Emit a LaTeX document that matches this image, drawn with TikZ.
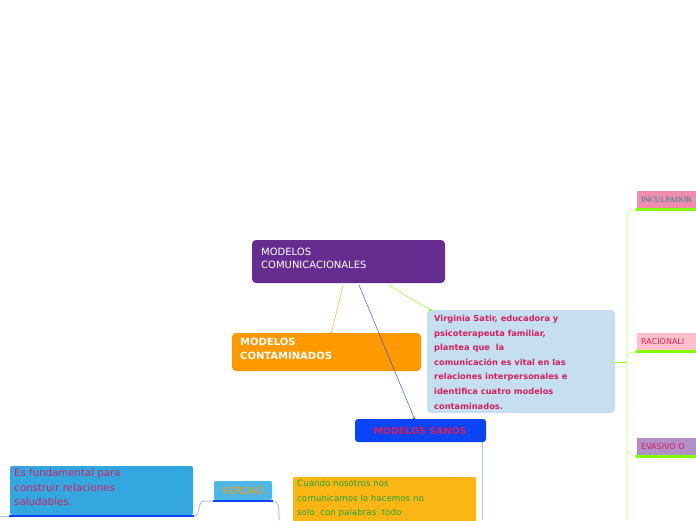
\documentclass[tikz,border=0pt]{standalone}
\usepackage{fontspec}
\setmainfont{DejaVu Sans}
\newfontfamily\serifx{Liberation Serif}
\begin{document}
\begin{tikzpicture}[x=1pt,y=-1pt,
 txt/.style={align=left,anchor=north west,inner sep=0pt,font=\fontsize{8.5}{11}\selectfont}]
\useasboundingbox (0,0) rectangle (696,520);
\definecolor{purp}{HTML}{662D91}
\definecolor{orng}{HTML}{FF9900}
\definecolor{lblue}{HTML}{C5DFF0}
\definecolor{crim}{HTML}{D0215F}
\definecolor{sblue}{HTML}{0A44F5}
\definecolor{vblue}{HTML}{4DB8E8}
\definecolor{fblue}{HTML}{33A8E0}
\definecolor{ylw}{HTML}{FBB614}
\definecolor{grn}{HTML}{1FA53A}
\definecolor{lgrn}{HTML}{7FFF00}
\definecolor{pgrn}{HTML}{CCFF99}
\definecolor{lnc}{HTML}{A9C4F5}
\definecolor{pk1}{HTML}{F08CB0}
\definecolor{pk2}{HTML}{FFC0CB}
\definecolor{pu2}{HTML}{B38FC8}
\definecolor{teal2}{HTML}{1E828C}
% boxes
\fill[purp,rounded corners=4pt] (252,240) rectangle (445,283);
\node[txt,text=white,font=\fontsize{10}{13}\selectfont] (t) at (261,248) {MODELOS\\COMUNICACIONALES};
\coordinate (tA) at (343,285); \coordinate (tB) at (359,285); \coordinate (tC) at (388,285);
\fill[orng,rounded corners=4pt] (232,333) rectangle (421,371);
\node[txt,text=white,font=\bfseries\fontsize{10}{13.5}\selectfont] (c) at (240,338) {MODELOS\\CONTAMINADOS};
\coordinate (cT) at (331,335);
\fill[lblue,rounded corners=4pt] (427,310) rectangle (615,413);
\node[txt,text=crim,font=\bfseries\fontsize{8.3}{14.6}\selectfont] (v) at (434,315) {Virginia Satir, educadora y\\psicoterapeuta familiar,\\plantea que\ \ la\\comunicación es vital en las\\relaciones interpersonales e\\identifica cuatro modelos\\contaminados.};
\coordinate (vT) at (432,311); \coordinate (vR) at (615,362);
\fill[sblue,rounded corners=3pt] (355,419) rectangle (486,442);
\node[text=crim,font=\bfseries\fontsize{9.5}{11}\selectfont,inner sep=0pt] (s) at (420,431) {MODELOS SANOS};
\coordinate (sT) at (415,420);
\fill[vblue,rounded corners=2pt] (214,481) rectangle (272,500);
\node[text=orng,font=\fontsize{10}{11}\selectfont,inner sep=0pt] (vd) at (243,491) {VERDAD};
\draw[sblue,line width=2.5pt] (213,501) -- (273,501);
\fill[fblue,rounded corners=2pt] (10,466) rectangle (193,515);
\node[txt,text=crim,font=\fontsize{10.2}{14.5}\selectfont] (f) at (14,469) {Es fundamental para\\construir relaciones\\saludables.};
\draw[sblue,line width=2.5pt] (9,516) -- (194,516);
\fill[ylw,rounded corners=2pt] (293,477) rectangle (476,525);
\node[txt,text=grn,font=\fontsize{8.7}{14.5}\selectfont] (cu) at (297,480) {Cuando nosotros nos\\comunicamos lo hacemos no\\solo\ \ con palabras\ \ todo};
% right labels
\fill[pk1] (637,191) rectangle (700,208);
\node[anchor=west,inner sep=0pt,text=teal2,font=\serifx\fontsize{8}{9}\selectfont] (i1) at (641,200) {INCULPADOR};
\begin{scope}
\clip (630,180) rectangle (696,470);
\fill[pk2] (637,333) rectangle (700,350);
\node[anchor=west,inner sep=0pt,text=crim,font=\fontsize{8}{9}\selectfont] (i2) at (641,342) {RACIONALI};
\end{scope}
\fill[pu2] (637,438) rectangle (700,455);
\node[anchor=west,inner sep=0pt,text=crim,font=\fontsize{8}{9}\selectfont] (i3) at (641,447) {EVASIVO O};
\foreach \y in {209.5,351.5,456.5} \draw[lgrn,line width=2.5pt] (636,\y) -- (700,\y);
% green tree
\draw[lgrn,line width=1pt] (vR) -- (627,362);
\draw[pgrn,line width=1pt] (627,520) -- (627,215) to[out=90,in=180] (636,210);
\draw[pgrn,line width=1pt] (627,357) to[out=90,in=180] (636,352);
\draw[pgrn,line width=1pt] (627,452) to[out=90,in=180] (636,457);
% arrows
\draw[orng,-stealth] (tA) -- (cT);
\draw[sblue,-stealth] (tB) -- (sT);
\draw[lgrn,-stealth] (tC) -- (vT);
% blue lines
\draw[lnc,line width=1pt] (482,442) -- (482,520);
\draw[lnc,line width=1pt] (273,501) to[out=0,in=90] (279,515) -- (279,520);
\draw[lnc,line width=1pt] (194,516) to[out=0,in=180] (204,501) -- (213,501);
\draw[lnc,line width=1pt] (9,516) -- (0,516);
\end{tikzpicture}
\end{document}
